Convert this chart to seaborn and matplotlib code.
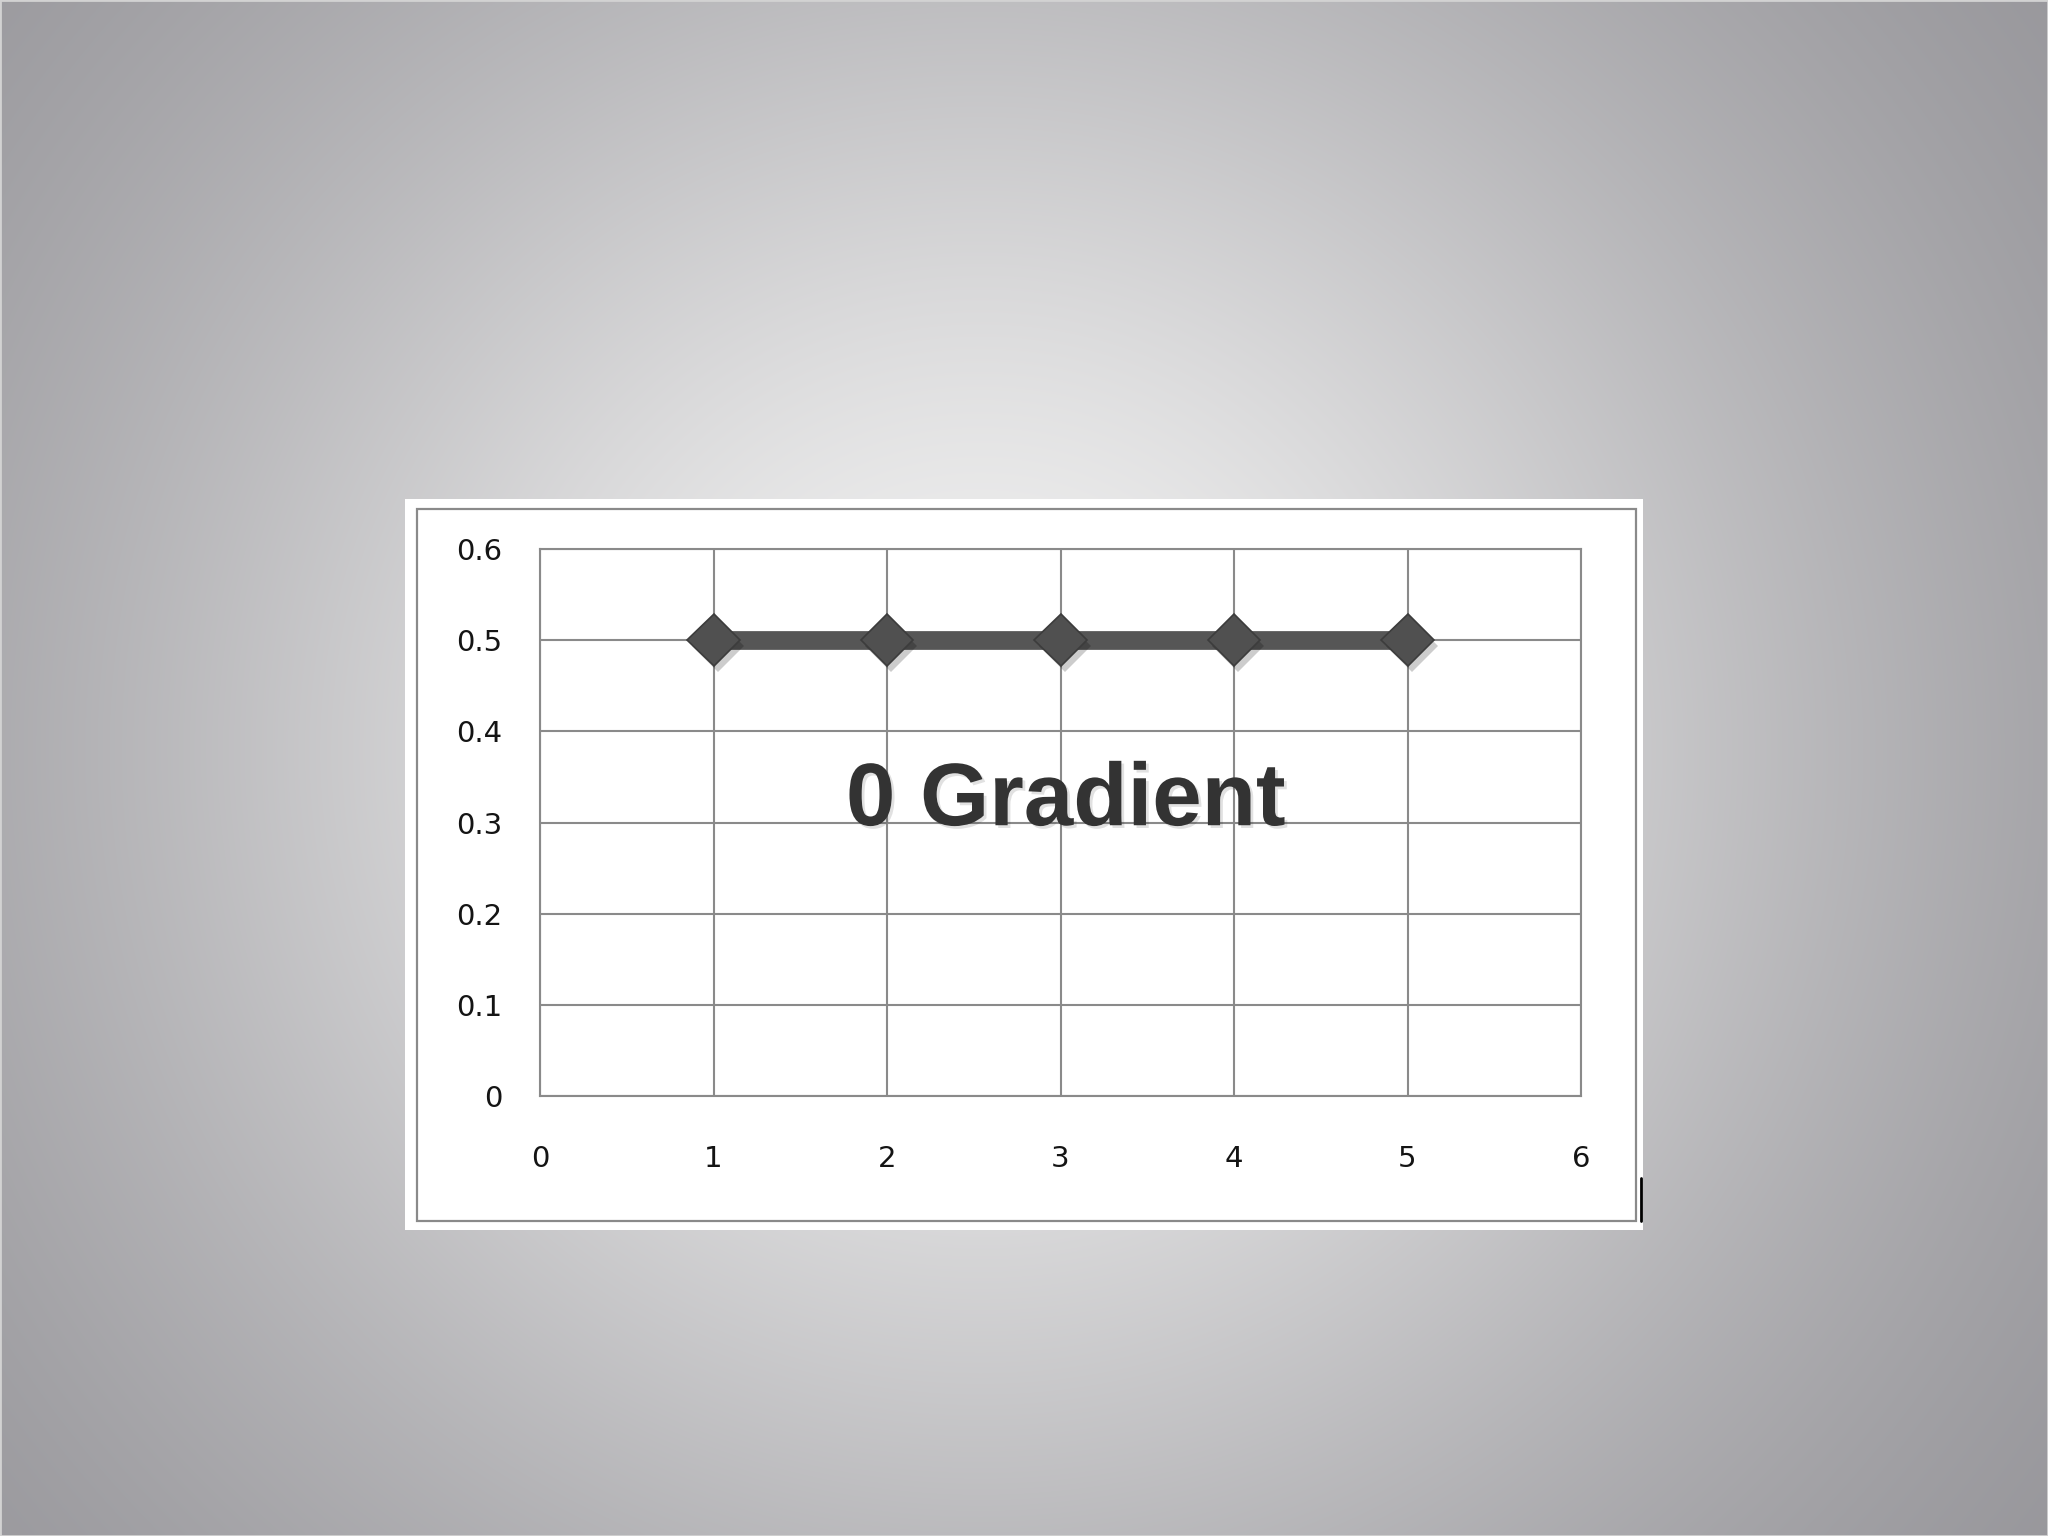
import numpy as np
import pandas as pd
import matplotlib
matplotlib.use("Agg")
import matplotlib.pyplot as plt
import matplotlib.patheffects as pe
from matplotlib.patches import Rectangle
from matplotlib.lines import Line2D
import seaborn as sns

# data
x_vals = [1, 2, 3, 4, 5]
y_vals = [0.5, 0.5, 0.5, 0.5, 0.5]
x_ticks = [0, 1, 2, 3, 4, 5, 6]
y_ticks = [0, 0.1, 0.2, 0.3, 0.4, 0.5, 0.6]
y_tick_labels = ["0", "0.1", "0.2", "0.3", "0.4", "0.5", "0.6"]
label_text = "0 Gradient"

W, H = 2048, 1536
sns.set_style("white")
plt.rcParams["font.family"] = ["DejaVu Sans"]

fig = plt.figure(figsize=(W / 100, H / 100), dpi=100)


def fx(px):
    return px / W


def fy(py):
    return 1 - py / H


# Step 1: grey radial slide background
bg = fig.add_axes([0, 0, 1, 1])
bg.set_axis_off()
yy, xx = np.mgrid[0:H, 0:W]
r2 = ((xx - 980) / 980) ** 2 + ((yy - 750) / 956) ** 2
drop = 100 * (1 - np.exp(-r2 / 0.9))
level = (240 - drop) / 255
img = np.dstack([level, level - 0.004 * drop / 100, level + 0.016 * drop / 100])
bg.imshow(np.clip(img, 0, 1), extent=[0, 1, 0, 1], aspect="auto", zorder=0)
bg.set_xlim(0, 1)
bg.set_ylim(0, 1)
fig.patches.append(Rectangle((0, 0), 1, 1, transform=fig.transFigure, facecolor="none",
                             edgecolor="#d2d2d2", linewidth=2, zorder=1))

# Step 2: white chart panel with its thin frame
fig.patches.append(Rectangle((fx(405), fy(1230)), fx(1643 - 405), (1230 - 499) / H,
                             transform=fig.transFigure, facecolor="white",
                             edgecolor="none", zorder=1))
fig.patches.append(Rectangle((fx(417), fy(1221)), fx(1636 - 417), (1221 - 509) / H,
                             transform=fig.transFigure, facecolor="none",
                             edgecolor="#8a8a8a", linewidth=1.6, zorder=2))
fig.lines.append(Line2D([fx(1641), fx(1641)], [fy(1178), fy(1221)],
                        transform=fig.transFigure, color="black", linewidth=2, zorder=3))

# Step 3: the line chart itself
ax = fig.add_axes([fx(540), fy(1096), fx(1581 - 540), (1096 - 549) / H], zorder=5)
ax.patch.set_alpha(0)
df = pd.DataFrame({"x": x_vals, "y": y_vals})
sns.lineplot(data=df, x="x", y="y", ax=ax, color="#565656", linewidth=13.5,
             marker="D", markersize=26.5, markerfacecolor="#505050",
             markeredgecolor="#3c3c3c", markeredgewidth=1.2, zorder=4,
             path_effects=[pe.SimplePatchShadow(offset=(3, -4), shadow_rgbFace="#000000",
                                                alpha=0.2), pe.Normal()])

ax.set_xlim(0, 6)
ax.set_ylim(0, 0.6)
ax.set_xticks(x_ticks)
ax.set_xticklabels([str(t) for t in x_ticks])
ax.set_yticks(y_ticks)
ax.set_yticklabels(y_tick_labels)
ax.set_xlabel("")
ax.set_ylabel("")
ax.grid(True, color="#8a8a8a", linewidth=1.5)
ax.set_axisbelow(True)
for side, sp in ax.spines.items():
    sp.set_color("#8a8a8a")
    sp.set_linewidth(1.5)
ax.tick_params(axis="both", colors="#8a8a8a", labelcolor="#141414",
               labelsize=21, length=9, width=1.5, direction="out")
ax.tick_params(axis="x", pad=26)
ax.tick_params(axis="y", pad=18)

ax.text(3.03, 0.297, label_text, ha="center", va="baseline", fontsize=64,
        fontweight="bold", family=["Liberation Sans", "DejaVu Sans"], color="#333333",
        path_effects=[pe.SimplePatchShadow(offset=(2, -2), alpha=0.12), pe.Normal()],
        zorder=6)

fig.savefig("out.png", dpi=100)
